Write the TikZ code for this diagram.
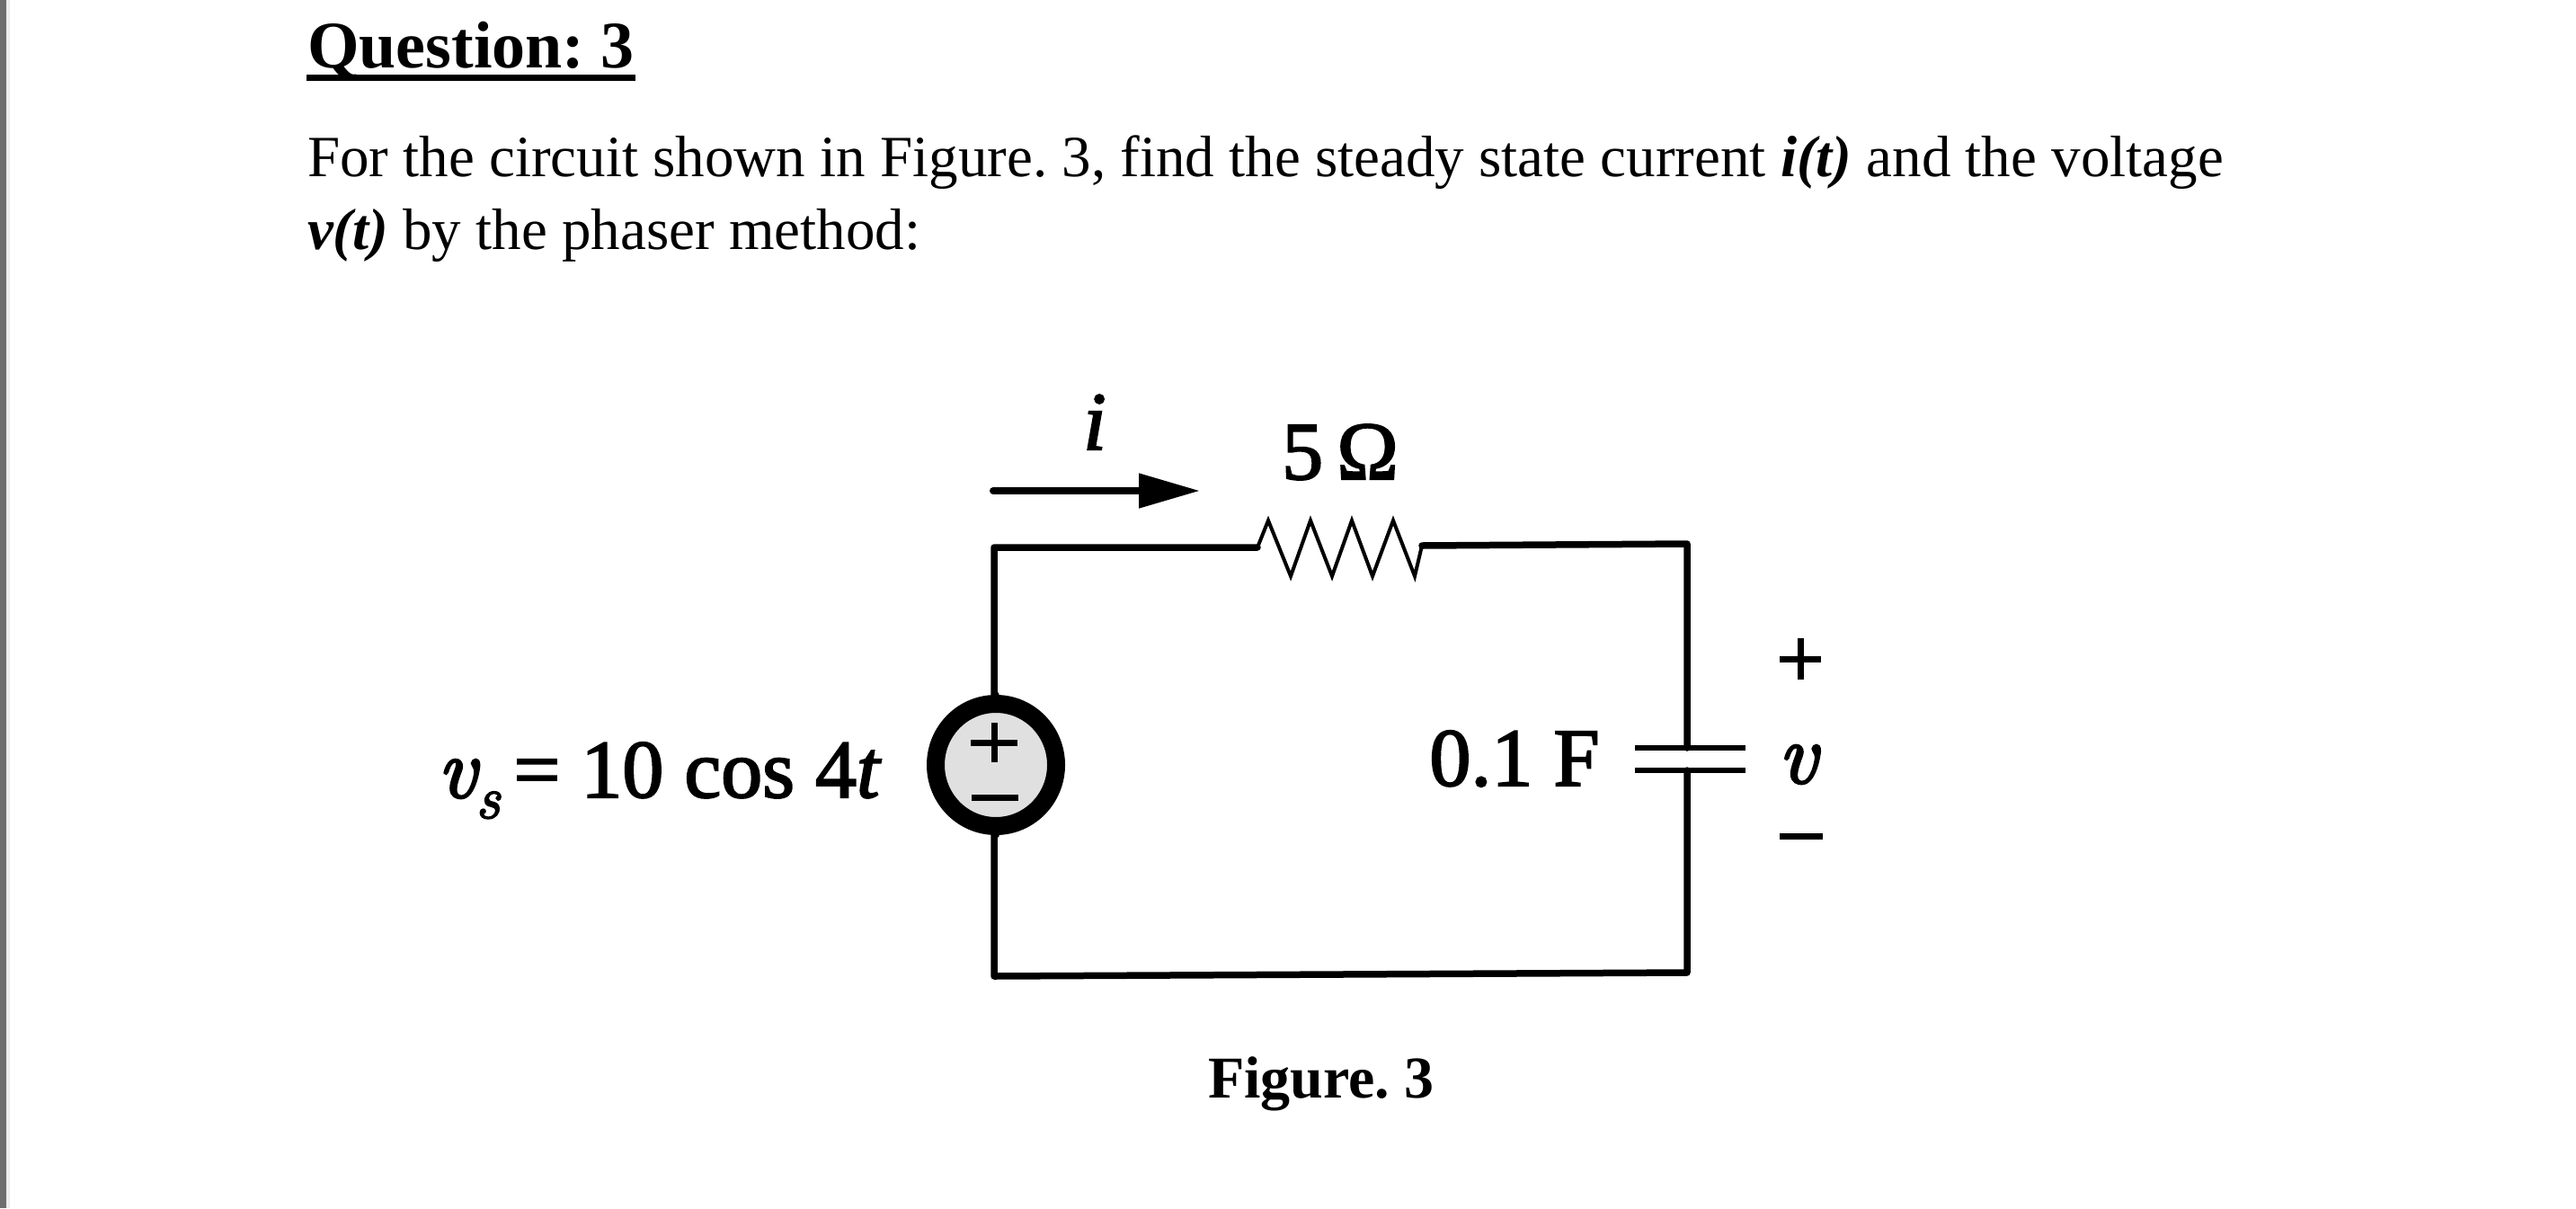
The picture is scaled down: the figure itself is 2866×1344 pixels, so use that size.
\documentclass[tikz,border=0pt]{standalone}
\usepackage{fontspec}
\setmainfont{Liberation Serif}
\newfontfamily\lblfont[FakeBold=2.2]{Liberation Serif}
\newfontfamily\lmfont[FakeBold=3]{Latin Modern Roman}
\usetikzlibrary{shapes.geometric,arrows.meta}
\newcommand{\fs}[1]{\fontsize{#1pt}{#1pt}\selectfont}
\tikzset{
  x=1pt,y=1pt,
  txt/.style={anchor=base west,inner sep=0pt,outer sep=0pt,text=black},
  ctr/.style={anchor=base,inner sep=0pt,outer sep=0pt,text=black},
  wire/.style={draw=black,line width=7.5pt,line cap=round,line join=round},
  zig/.style={draw=black,line width=4pt,line join=miter},
  plate/.style={draw=black,line width=6.5pt},
  sym/.style={draw=black,line width=7pt},
}
\begin{document}
\frenchspacing
\begin{tikzpicture}
\useasboundingbox (0,-1344) rectangle (2866,0);
\fill[white] (0,-1344) rectangle (2866,0);
\fill[black!57] (0,-1344) rectangle (6.7,0);
\fill[black!7] (6.7,-1344) rectangle (11,0);
% heading and text
\node[txt,font=\fs{74}\bfseries] (title) at (342,-75) {Question: 3};
\coordinate (ulA) at (341,-86.5);
\coordinate (ulB) at (707,-86.5);
\draw[black,line width=7pt] (ulA) -- (ulB);
\node[txt,font=\fs{65}] (line1) at (342,-196) {For the circuit shown in Figure. 3, find the steady state current \textbf{\textit{i(t)}} and the voltage};
\node[txt,font=\fs{65}] (line2) at (342,-277) {\textbf{\textit{v(t)}} by the phaser method:};
% circuit nodes
\coordinate (tl) at (1106,-609);
\coordinate (tr) at (1877,-605);
\coordinate (bl) at (1106,-1086);
\coordinate (br) at (1877,-1082);
\node[ellipse,draw=black,line width=20pt,fill=black!12,minimum width=134pt,minimum height=136pt,inner sep=0pt] (src) at (1108,-851) {};
\coordinate (r0) at (1399,-609);
\coordinate (r1) at (1411,-579);
\coordinate (r2) at (1436,-641);
\coordinate (r3) at (1458,-579);
\coordinate (r4) at (1482,-641);
\coordinate (r5) at (1504,-579);
\coordinate (r6) at (1527,-641);
\coordinate (r7) at (1550,-579);
\coordinate (r8) at (1574,-641);
\coordinate (r9) at (1582,-607);
\coordinate (capT) at (1877,-832);
\coordinate (capB) at (1877,-857);
\coordinate (pTl) at (1819,-832);
\coordinate (pTr) at (1942,-832);
\coordinate (pBl) at (1819,-857);
\coordinate (pBr) at (1942,-857);
% wires
\draw[wire] (src.north) -- (1106,-780) -- (tl) -- (r0);
\draw[zig] (r0) -- (r1) -- (r2) -- (r3) -- (r4) -- (r5) -- (r6) -- (r7) -- (r8) -- (r9);
\draw[wire] (r9) -- (tr) -- (capT);
\draw[wire] (capB) -- (br) -- (bl) -- (1106,-925) -- (src.south);
\draw[plate] (pTl) -- (pTr);
\draw[plate] (pBl) -- (pBr);
% source signs
\coordinate (spA) at (1080,-826);
\coordinate (spB) at (1132,-826);
\coordinate (spC) at (1106,-804);
\coordinate (spD) at (1106,-848);
\coordinate (smA) at (1081,-887);
\coordinate (smB) at (1133,-887);
\draw[sym] (spA) -- (spB);
\draw[sym] (spC) -- (spD);
\draw[sym] (smA) -- (smB);
% current arrow
\coordinate (iA) at (1105,-546);
\coordinate (iB) at (1335,-546);
\draw[black,line width=8pt,line cap=round,-{Triangle[length=68pt,width=37pt]}] (iA) -- (iB);
% polarity
\coordinate (vpA) at (1980,-733);
\coordinate (vpB) at (2026,-733);
\coordinate (vpC) at (2003,-710);
\coordinate (vpD) at (2003,-756);
\coordinate (vmA) at (1980,-930);
\coordinate (vmB) at (2028,-930);
\draw[sym] (vpA) -- (vpB);
\draw[sym] (vpC) -- (vpD);
\draw[sym] (vmA) -- (vmB);
% labels
\node[ctr,font=\fs{92}\lblfont\itshape] (lbli) at (1218,-500) {i};
\node[ctr,font=\fs{92}\lblfont] (lblr) at (1491,-533) {5\,Ω};
\node[ctr,font=\fs{92}\lblfont] (lblc) at (1685,-874) {0.1 F};
\node[ctr,font=\fs{95}\lmfont\itshape] (lblv) at (2000,-871) {v};
\node[txt,font=\fs{92}\lblfont] (lbls) at (487,-887) {{\fs{95}\lmfont\itshape v}\raisebox{-23pt}{\fs{66}\lmfont\itshape s}\,= 10 cos 4{\itshape t}};
\node[txt,font=\fs{66}\bfseries] (fig) at (1344,-1221) {Figure. 3};
\end{tikzpicture}
\end{document}
